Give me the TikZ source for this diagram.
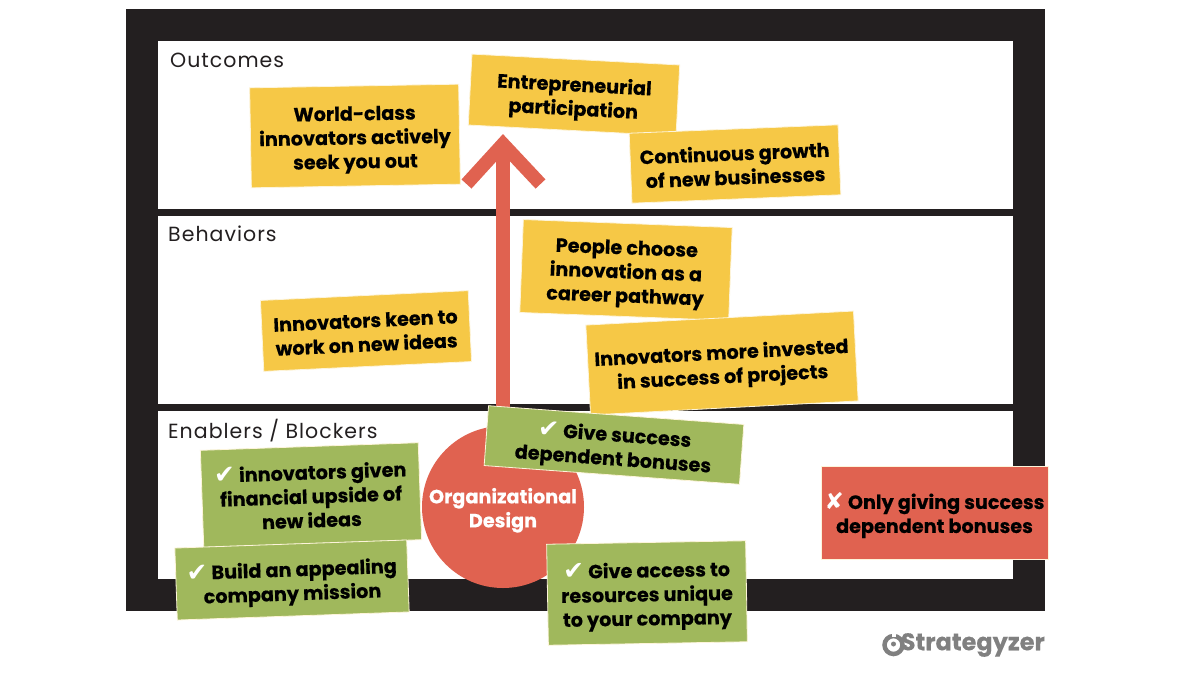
\documentclass[tikz,border=0pt]{standalone}
\usepackage{fontspec}
\setmainfont{Poppins}
\newfontfamily\markfont{DejaVu Sans}
\definecolor{framedark}{RGB}{35,31,32}
\definecolor{noteyellow}{RGB}{246,200,70}
\definecolor{notegreen}{RGB}{160,184,92}
\definecolor{notered}{RGB}{224,98,80}
\definecolor{logogray}{RGB}{128,128,128}
\newcommand{\okmark}{\smash{\raisebox{-1pt}{\fontsize{25}{24}\markfont\color{white}\char"2714}}}
\newcommand{\nomark}{\smash{\raisebox{-1pt}{\fontsize{23}{24}\markfont\color{white}\char"2718}}}
\newcommand{\ntop}{\rule{0pt}{22pt}}
\newcommand{\nbot}{\rule[-5pt]{0pt}{5pt}}
\tikzset{
    panel/.style={fill=white, draw=none, anchor=north west, inner sep=0pt},
    paneltitle/.style={anchor=west, inner sep=0pt, text=framedark, font=\fontsize{20.5}{24}\addfontfeatures{LetterSpace=5}\selectfont},
    notetext/.style={align=center, inner sep=0pt, font=\fontsize{19.2}{24}\bfseries\addfontfeatures{FakeBold=0.35}\selectfont},
    note/.style={notetext, draw=white!80!noteyellow, line width=0.8pt},
    yellownote/.style={note, fill=noteyellow},
    greennote/.style={note, fill=notegreen},
    rednote/.style={note, fill=notered},
    bigarrow/.style={draw=notered, line width=13.5pt, miter limit=10}
}
\begin{document}
\begin{tikzpicture}[x=1pt, y=-1pt]
        \useasboundingbox (0,0) rectangle (1189,675);
        \node[fill=framedark, anchor=north west, inner sep=0pt, minimum width=919pt, minimum height=602pt] (frame) at (126,9) {};
        \node[panel, minimum width=855pt, minimum height=168pt] (outcomes) at (158,41) {};
        \node[panel, minimum width=855pt, minimum height=188pt] (behaviors) at (158,216) {};
        \node[panel, minimum width=855pt, minimum height=168pt] (enablers) at (158,411) {};
        \node[paneltitle] (outcomestitle) at (170,60.5) {Outcomes};
        \node[paneltitle] (behaviorstitle) at (168,233.5) {Behaviors};
        \node[paneltitle] (enablerstitle) at (168,430.5) {Enablers / Blockers};

        \node[notetext, circle, fill=notered, text=white, minimum size=162pt] (design) at (503,507) {\ntop Organizational\\Design\nbot};
        \coordinate (apex) at (503,144);
        \coordinate (headleft) at (466.5,184);
        \coordinate (headright) at (540.5,184);
        \draw[bigarrow] (design) -- (apex);
        \draw[bigarrow] (headleft) -- (apex) -- (headright);

        \node[yellownote, rotate=1, minimum width=209pt, minimum height=100pt] (worldclass) at (355,136) {\ntop World-class\\innovators actively\\seek you out\nbot};
        \node[yellownote, rotate=-3, minimum width=208pt, minimum height=71pt] (entrepreneurial) at (574,95) {\ntop Entrepreneurial\\participation\nbot};
        \node[yellownote, rotate=2.3, minimum width=209pt, minimum height=70pt] (growth) at (735,164) {\ntop Continuous growth\\of new businesses\nbot};
        \node[yellownote, rotate=-2.2, minimum width=209pt, minimum height=93pt] (pathway) at (626,270) {\ntop People choose\\innovation as a\\career pathway\nbot};
        \node[yellownote, rotate=2.7, minimum width=208pt, minimum height=71pt] (keen) at (366,331) {\ntop Innovators keen to\\work on new ideas\nbot};
        \node[yellownote, rotate=3, minimum width=268pt, minimum height=90pt] (invested) at (722,363) {\ntop Innovators more invested\\in success of projects\nbot};

        \node[greennote, rotate=-4.2, minimum width=256pt, minimum height=60pt] (bonuses) at (614,445) {\ntop\okmark{} Give success\\dependent bonuses\nbot};
        \node[greennote, rotate=2, minimum width=218pt, minimum height=97pt] (upside) at (311,495) {\ntop\okmark{} innovators given\\financial upside of\\new ideas\nbot};
        \node[greennote, rotate=2, minimum width=232pt, minimum height=72pt] (mission) at (292,580) {\ntop\okmark{} Build an appealing\\company mission\nbot};
        \node[greennote, rotate=1, minimum width=199pt, minimum height=101pt] (resources) at (647,593) {\ntop\okmark{} Give access to\\resources unique\\to your company\nbot};
        \node[rednote, minimum width=227pt, minimum height=93pt] (onlybonuses) at (934.5,512.5) {\ntop\nomark{} Only giving success\\dependent bonuses\nbot};

        \node[anchor=east, inner sep=0pt, text=logogray, font=\fontsize{24}{24}\bfseries\addfontfeatures{FakeBold=0.35}\selectfont] (logotext) at (1045,645) {Strategyzer};
        \node[circle, draw=logogray, line width=4.5pt, inner sep=0pt, minimum size=18pt] (logoring) at (893.5,645) {};
        \fill[white] (891.5,632) rectangle (895.5,637);
        \fill[logogray] (logoring) ++(0,-1) circle (2.5pt);
    \end{tikzpicture}
\end{document}
